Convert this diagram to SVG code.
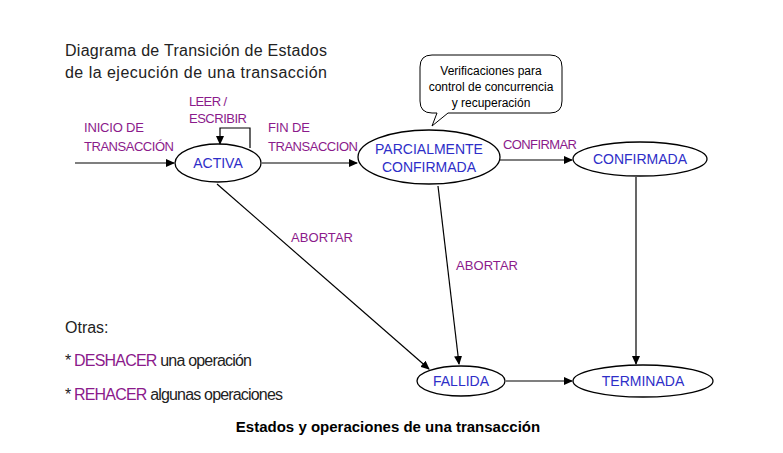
<svg xmlns="http://www.w3.org/2000/svg" width="783" height="453" viewBox="0 0 783 453">
<style>
.n{fill:#fff;stroke:#000;stroke-width:1.3}
.t{font-family:"Liberation Sans",Arial,sans-serif;font-size:14px;fill:#2e2ec8;text-anchor:middle;font-stretch:condensed}
.l{font-family:"Liberation Sans",Arial,sans-serif;font-size:13px;fill:#8b1a8b}
.k{font-family:"Liberation Sans",Arial,sans-serif;font-size:16px;fill:#222}
.e{stroke:#000;stroke-width:1.2;fill:none;marker-end:url(#a)}
</style>
<defs><marker id="a" markerWidth="9" markerHeight="8" refX="8" refY="4" orient="auto" markerUnits="userSpaceOnUse"><path d="M0,0L9,4L0,8z" fill="#000"/></marker></defs>
<rect width="783" height="453" fill="#fff"/>
<text class="k" x="65" y="56" textLength="262">Diagrama de Transición de Estados</text>
<text class="k" x="65" y="78" textLength="262">de la ejecución de una transacción</text>
<g id="connectors">
<path class="e" d="M75,163H174"/>
<path class="e" d="M250,148V128H220V144"/>
<path class="e" d="M262,163H357"/>
<path class="e" d="M500,160H572"/>
<path class="e" d="M217,184L429,369"/>
<path class="e" d="M438,186L459,364"/>
<path class="e" d="M636,177V364"/>
<path class="e" d="M506,381H572"/>
</g>
<text class="l" x="84" y="132" textLength="60">INICIO DE</text>
<text class="l" x="84" y="151" textLength="90">TRANSACCIÓN</text>
<text class="l" x="189" y="106" textLength="38">LEER /</text>
<text class="l" x="189" y="123" textLength="58">ESCRIBIR</text>
<text class="l" x="268" y="132" textLength="42">FIN DE</text>
<text class="l" x="268" y="151" textLength="90">TRANSACCION</text>
<text class="l" x="503" y="149" textLength="74">CONFIRMAR</text>
<text class="l" x="291" y="242" textLength="62">ABORTAR</text>
<text class="l" x="456" y="270" textLength="62">ABORTAR</text>
<g id="callout">
<path d="M432,55H550Q562,55 562,67V101Q562,113 550,113H448L432,126L437,113H432Q420,113 420,101V67Q420,55 432,55Z" fill="#fff" stroke="#000" stroke-width="1"/>
<text font-family="Liberation Sans,Arial,sans-serif" font-size="12" text-anchor="middle" x="491" y="75">Verificaciones para</text>
<text font-family="Liberation Sans,Arial,sans-serif" font-size="12" text-anchor="middle" x="491" y="91">control de concurrencia</text>
<text font-family="Liberation Sans,Arial,sans-serif" font-size="12" text-anchor="middle" x="491" y="107">y recuperación</text>
</g>
<g id="activa"><ellipse class="n" cx="218" cy="163" rx="43" ry="19"/><text class="t" x="218" y="168">ACTIVA</text></g>
<g id="parcial"><ellipse class="n" cx="429" cy="157" rx="71" ry="27"/><text class="t" x="429" y="154">PARCIALMENTE</text><text class="t" x="429" y="172">CONFIRMADA</text></g>
<g id="confirmada"><ellipse class="n" cx="640" cy="159" rx="67" ry="17"/><text class="t" x="640" y="164">CONFIRMADA</text></g>
<g id="fallida"><ellipse class="n" cx="461" cy="381" rx="44" ry="15"/><text class="t" x="461" y="386">FALLIDA</text></g>
<g id="terminada"><ellipse class="n" cx="643" cy="381" rx="70" ry="16"/><text class="t" x="643" y="386">TERMINADA</text></g>
<text class="k" x="65" y="333">Otras:</text>
<text class="k" x="65" y="366" textLength="187">* <tspan fill="#8b1a8b">DESHACER</tspan> una operación</text>
<text class="k" x="65" y="400" textLength="218">* <tspan fill="#8b1a8b">REHACER</tspan> algunas operaciones</text>
<text font-family="Liberation Sans,Arial,sans-serif" font-size="15" font-weight="bold" text-anchor="middle" x="388" y="432">Estados y operaciones de una transacción</text>
</svg>
